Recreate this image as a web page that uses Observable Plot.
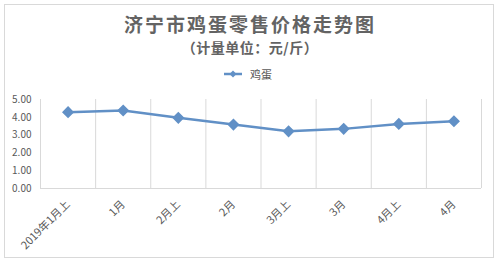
<!DOCTYPE html>
<html><head><meta charset="utf-8">
<script src="https://cdn.jsdelivr.net/npm/d3@7"></script>
<script src="https://cdn.jsdelivr.net/npm/@observablehq/plot@0.6"></script>
<style>
html,body{margin:0;padding:0;background:#fff;}
#wrap{position:relative;width:500px;height:263px;overflow:hidden;font-family:"Noto Sans CJK SC","Noto Sans",sans-serif;}
#frame{position:absolute;left:4px;top:4px;width:490px;height:254px;border:1px solid #d9d9d9;box-sizing:border-box;}
#title{position:absolute;left:0;width:500px;top:14px;text-align:center;font-size:19px;font-weight:bold;color:#636363;letter-spacing:2px;line-height:19px;}
#sub{position:absolute;left:0;width:500px;top:40px;text-align:center;font-size:14px;font-weight:bold;color:#636363;line-height:14px;letter-spacing:0.5px;}
#legend{position:absolute;left:224px;top:66px;height:16px;display:flex;align-items:center;font-size:11px;color:#595959;}
#plot{position:absolute;left:0;top:0;}
</style></head>
<body><div id="wrap"><div id="frame"></div>
<div id="title">济宁市鸡蛋零售价格走势图</div>
<div id="sub">（计量单位：元/斤）</div>
<div id="legend"><svg width="20" height="10"><line x1="0" y1="5" x2="18" y2="5" stroke="#6190c6" stroke-width="2.5"/><path d="M9,1.5 L12.5,5 L9,8.5 L5.5,5 Z" fill="#6190c6"/></svg><span style="margin-left:6px">鸡蛋</span></div>
<div id="plot"></div></div>
<script>
const categories = ["2019年1月上","1月","2月上","2月","3月上","3月","4月上","4月"];
const eggPrice = [4.29, 4.38, 3.97, 3.59, 3.21, 3.35, 3.63, 3.78];
const yTicks = [0, 1, 2, 3, 4, 5];

const data = categories.map((c, i) => ({i, c, v: eggPrice[i]}));
const boundaries = categories.map((_, i) => i - 0.5).concat([categories.length - 0.5]);
const color = "#6190c6";

const chart = Plot.plot({
  width: 500, height: 263,
  marginLeft: 40, marginRight: 19, marginTop: 99, marginBottom: 75,
  style: {fontFamily: '"Noto Sans CJK SC","Noto Sans",sans-serif', background: "transparent", color: "#595959"},
  x: {type: "linear", domain: [-0.5, categories.length - 0.5]},
  y: {domain: [0, 5]},
  marks: [
    Plot.ruleX(boundaries, {x: d => d, y1: 0, y2: 5, stroke: "#d9d9d9", strokeWidth: 1, strokeOpacity: 1}),
    Plot.ruleY([0], {stroke: "#d9d9d9", strokeOpacity: 1}),
    Plot.axisY({ticks: yTicks, tickFormat: d => d.toFixed(2), tickSize: 0, tickPadding: 9, fontSize: 10, fill: "#595959", label: null}),
    Plot.axisX({ticks: data.map(d => d.i), tickFormat: i => categories[i], tickSize: 0, tickPadding: 14, tickRotate: -45, fontSize: 11, fill: "#595959", label: null}),
    Plot.line(data, {x: "i", y: "v", stroke: color, strokeWidth: 2.5}),
    Plot.dot(data, {x: "i", y: "v", symbol: "diamond2", r: 4.5, fill: color, stroke: color})
  ]
});
document.getElementById("plot").appendChild(chart);
</script></body></html>
